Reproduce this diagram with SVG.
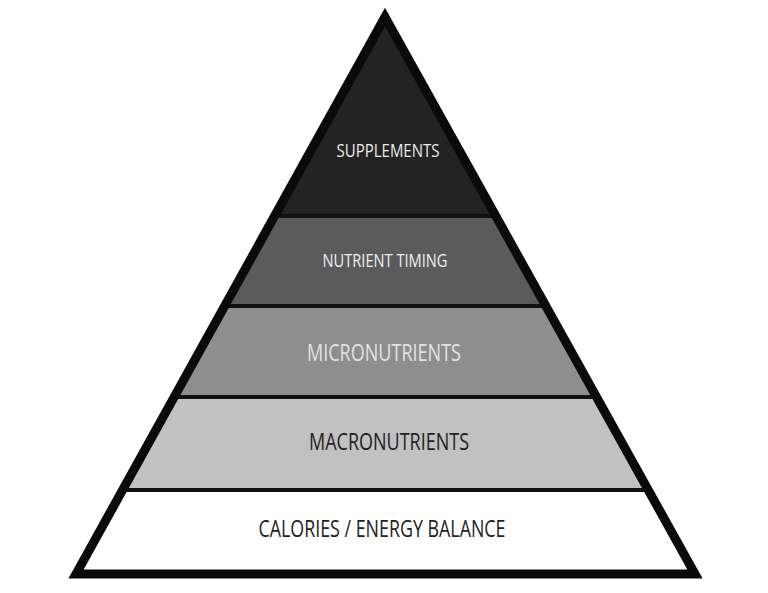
<svg xmlns="http://www.w3.org/2000/svg" width="768" height="593" viewBox="0 0 768 593">
  <style>
    .lbl { font-family: "Open Sans", "Noto Sans", "Liberation Sans", sans-serif; text-anchor: middle; }
    .small { font-size: 18px; }
    .big { font-size: 24px; }
    .div { stroke: #111; stroke-width: 4; }
  </style>
  <defs>
    <clipPath id="tri">
      <polygon points="385,17 76,574 695,574"/>
    </clipPath>
  </defs>
  <rect width="768" height="593" fill="#ffffff"/>
  <g clip-path="url(#tri)">
    <g id="supplements">
      <rect x="0" y="0" width="768" height="216" fill="#232323"/>
      <text class="lbl small" x="388" y="157" fill="#ececec" textLength="103" lengthAdjust="spacingAndGlyphs">SUPPLEMENTS</text>
    </g>
    <g id="nutrient-timing">
      <rect x="0" y="216" width="768" height="90" fill="#5b5b5b"/>
      <text class="lbl small" x="385" y="267" fill="#f0f0f0" textLength="125" lengthAdjust="spacingAndGlyphs">NUTRIENT TIMING</text>
    </g>
    <g id="micronutrients">
      <rect x="0" y="306" width="768" height="91" fill="#8e8e8e"/>
      <text class="lbl big" x="384" y="361" fill="#e2e2e2" textLength="154" lengthAdjust="spacingAndGlyphs">MICRONUTRIENTS</text>
    </g>
    <g id="macronutrients">
      <rect x="0" y="397" width="768" height="93" fill="#c1c1c1"/>
      <text class="lbl big" x="389" y="450" fill="#222222" textLength="160" lengthAdjust="spacingAndGlyphs">MACRONUTRIENTS</text>
    </g>
    <g id="calories">
      <rect x="0" y="490" width="768" height="90" fill="#ffffff"/>
      <text class="lbl big" x="382" y="537" fill="#222222" textLength="247" lengthAdjust="spacingAndGlyphs">CALORIES / ENERGY BALANCE</text>
    </g>
    <g id="connectors">
      <line class="div" x1="0" y1="216" x2="768" y2="216"/>
      <line class="div" x1="0" y1="306" x2="768" y2="306"/>
      <line class="div" x1="0" y1="397" x2="768" y2="397"/>
      <line class="div" x1="0" y1="490" x2="768" y2="490"/>
    </g>
  </g>
  <g id="outline">
    <polygon points="385,17 76,574 695,574" fill="none" stroke="#0a0a0a" stroke-width="9" stroke-linejoin="miter" stroke-miterlimit="10"/>
  </g>
</svg>
